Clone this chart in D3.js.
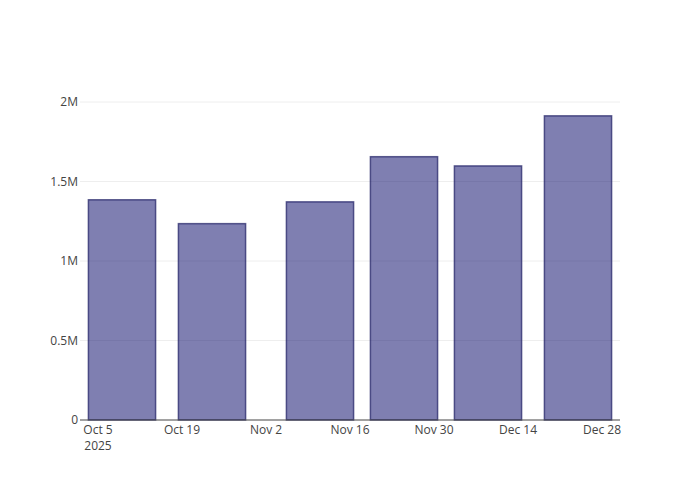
<!DOCTYPE html>
<html><head><meta charset="utf-8">
<script src="https://cdn.jsdelivr.net/npm/d3@7"></script>
<style>body{margin:0;background:#fff}text{font-family:"Open Sans",sans-serif}</style>
</head><body><svg id="c" width="700" height="500"></svg>
<script>
const dates = ["2025-10-09","2025-10-24","2025-11-11","2025-11-25","2025-12-09","2025-12-24"];
const values = [1385000, 1235000, 1372000, 1656000, 1598000, 1913000];
const yTicks = [0, 500000, 1000000, 1500000, 2000000];
const yTickLabels = ["0","0.5M","1M","1.5M","2M"];
const xTicks = ["2025-10-05","2025-10-19","2025-11-02","2025-11-16","2025-11-30","2025-12-14","2025-12-28"];
const xTickLabels = ["Oct 5","Oct 19","Nov 2","Nov 16","Nov 30","Dec 14","Dec 28"];

const p = d3.timeParse("%Y-%m-%d");
const svg = d3.select("#c");
const L=80,R=620,T=100,B=420;
const x = d3.scaleTime().domain([p("2025-10-02"), p("2025-12-31")]).range([L,R]);
const y = d3.scaleLinear().domain([0,2000000*1.0063]).range([B,T]);
const dayPx = x(p("2025-10-20"))-x(p("2025-10-19"));
const bw = 11.2*dayPx;

svg.append("g").selectAll("line").data(yTicks.slice(1)).join("line")
  .attr("x1",L).attr("x2",R).attr("y1",d=>y(d)).attr("y2",d=>y(d))
  .attr("stroke","#eee").attr("stroke-width",1);

svg.append("g").selectAll("rect").data(values).join("rect")
  .attr("x",(d,i)=>x(p(dates[i]))-bw/2).attr("width",bw)
  .attr("y",d=>y(d)).attr("height",d=>B-y(d))
  .attr("fill","rgba(0,0,100,0.5)").attr("stroke","rgba(30,30,100,0.7)").attr("stroke-width",1.5);

svg.append("line").attr("x1",L).attr("x2",R).attr("y1",B).attr("y2",B).attr("stroke","#444");

svg.append("g").selectAll("text").data(yTicks).join("text")
  .attr("x",L-2).attr("y",d=>y(d)+4).attr("text-anchor","end")
  .attr("font-size",12).attr("fill","#444").text((d,i)=>yTickLabels[i]);

const xg = svg.append("g");
xTicks.forEach((t,i)=>{
  const xx = x(p(t));
  xg.append("text").attr("x",xx).attr("y",B+14).attr("text-anchor","middle")
    .attr("font-size",12).attr("fill","#444").text(xTickLabels[i]);
});
xg.append("text").attr("x",x(p(xTicks[0]))).attr("y",B+30).attr("text-anchor","middle")
  .attr("font-size",12).attr("fill","#444").text("2025");
</script></body></html>
